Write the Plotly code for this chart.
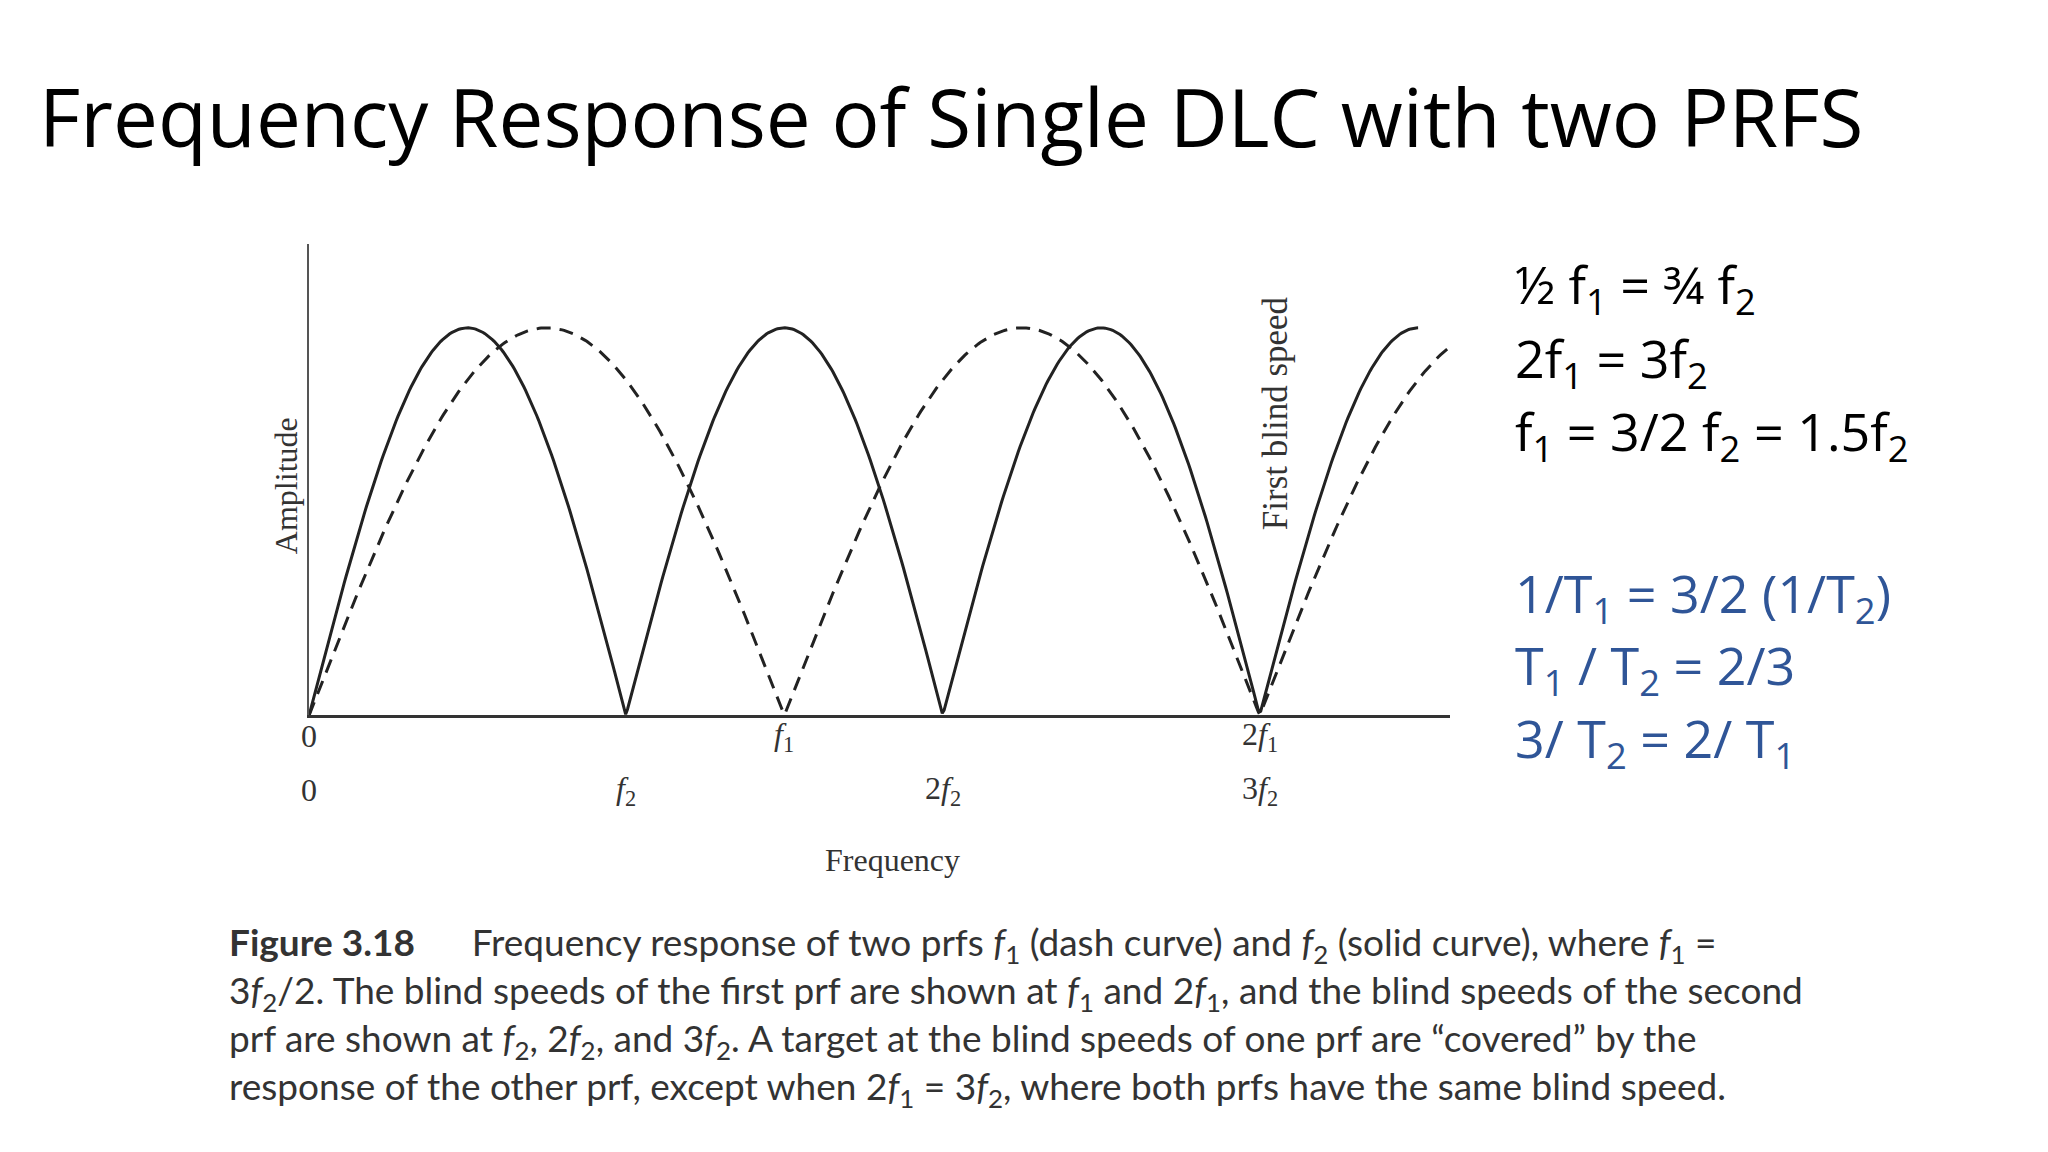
import numpy as np
import plotly.graph_objects as go

# frequencies measured in units of f2
blind_f2 = [0, 1, 2, 3]          # blind speeds of second prf (solid)
blind_f1 = [0, 1.5, 3]           # blind speeds of first prf (dash)
solid_end = 3.5
dash_end = 3.625
peak_amp = 1.0

row1_pos = [0, 1.5, 3]
row1_text = ["0", "<i>f</i><sub>1</sub>", "2<i>f</i><sub>1</sub>"]
row2_pos = [0, 1, 2, 3]
row2_text = ["0", "<i>f</i><sub>2</sub>", "2<i>f</i><sub>2</sub>", "3<i>f</i><sub>2</sub>"]

eq_black = ["½ f<sub>1</sub> = ¾ f<sub>2</sub>", "2f<sub>1</sub> = 3f<sub>2</sub>",
            "f<sub>1</sub> = 3/2 f<sub>2</sub> = 1.5f<sub>2</sub>"]
eq_blue = ["1/T<sub>1</sub> = 3/2 (1/T<sub>2</sub>)", "T<sub>1</sub> / T<sub>2</sub> = 2/3",
           "3/ T<sub>2</sub> = 2/ T<sub>1</sub>"]
caption = ("<b>Figure 3.18</b>      Frequency response of two prfs <i>f</i><sub>1</sub> (dash curve) and <i>f</i><sub>2</sub> (solid curve), where <i>f</i><sub>1</sub> =<br>"
           "3<i>f</i><sub>2</sub>/2. The blind speeds of the first prf are shown at <i>f</i><sub>1</sub> and 2<i>f</i><sub>1</sub>, and the blind speeds of the second<br>"
           "prf are shown at <i>f</i><sub>2</sub>, 2<i>f</i><sub>2</sub>, and 3<i>f</i><sub>2</sub>. A target at the blind speeds of one prf are \u201ccovered\u201d by the<br>"
           "response of the other prf, except when 2<i>f</i><sub>1</sub> = 3<i>f</i><sub>2</sub>, where both prfs have the same blind speed.")

x_s = np.linspace(0, solid_end, 600)
y_s = peak_amp * np.abs(np.sin(np.pi * x_s / (blind_f2[1] - blind_f2[0])))
x_d = np.linspace(0, dash_end, 600)
y_d = peak_amp * np.abs(np.sin(np.pi * x_d / (blind_f1[1] - blind_f1[0])))

fig = go.Figure()
fig.add_trace(go.Scatter(x=x_s, y=y_s, mode='lines', line=dict(color='#222', width=3)))
fig.add_trace(go.Scatter(x=x_d, y=y_d, mode='lines',
                         line=dict(color='#222', width=3, dash='14px,9px')))

serif = dict(family="Liberation Serif", size=32, color='#333')
ann = []
for p, t in zip(row1_pos, row1_text):
    ann.append(dict(x=p, y=0.368, xref='x', yref='paper', text=t, showarrow=False,
                    yanchor='middle', font=serif))
for p, t in zip(row2_pos, row2_text):
    ann.append(dict(x=p, y=0.321, xref='x', yref='paper', text=t, showarrow=False,
                    yanchor='middle', font=serif))
ann.append(dict(x=0.126, y=0.585, xref='paper', yref='paper', text="Amplitude", textangle=-90,
                showarrow=False, yanchor='middle', font=serif))
ann.append(dict(x=0.619, y=0.648, xref='paper', yref='paper', text="First blind speed", textangle=-90,
                showarrow=False, yanchor='middle', font=dict(family="Liberation Serif", size=35, color='#333')))
ann.append(dict(x=0.432, y=0.26, xref='paper', yref='paper', text="Frequency",
                showarrow=False, yanchor='middle', font=serif))
ann.append(dict(x=0.014, y=0.907, xref='paper', yref='paper', text="Frequency Response of Single DLC with two PRFS",
                xanchor='left', yanchor='middle', showarrow=False,
                font=dict(family="Open Sans", size=80, color='black')))
for i, t in enumerate(eq_black):
    ann.append(dict(x=0.735, y=0.758 - i * 0.064, xref='paper', yref='paper', text=t, xanchor='left',
                    yanchor='middle', showarrow=False, font=dict(family="Open Sans", size=52, color='black')))
for i, t in enumerate(eq_blue):
    ann.append(dict(x=0.735, y=0.49 - i * 0.063, xref='paper', yref='paper', text=t, xanchor='left',
                    yanchor='middle', showarrow=False, font=dict(family="Open Sans", size=52, color='#2F5597')))
ann.append(dict(x=0.107, y=0.125, xref='paper', yref='paper', text=caption, xanchor='left', align='left',
                yanchor='middle', showarrow=False, font=dict(family="Lato", size=37, color='#333')))

fig.update_layout(
    width=2048, height=1152, showlegend=False, plot_bgcolor='white', paper_bgcolor='white',
    margin=dict(l=0, r=0, t=0, b=0), annotations=ann,
    xaxis=dict(domain=[0.147, 0.704], range=[0, 3.6], showgrid=False, zeroline=False,
               showticklabels=False, showline=True, linecolor='#333', linewidth=3),
    yaxis=dict(domain=[0.386, 0.795], range=[0, 1.216], showgrid=False, zeroline=False,
               showticklabels=False, showline=True, linecolor='#555', linewidth=1.5),
)
fig.write_html("out.html")
